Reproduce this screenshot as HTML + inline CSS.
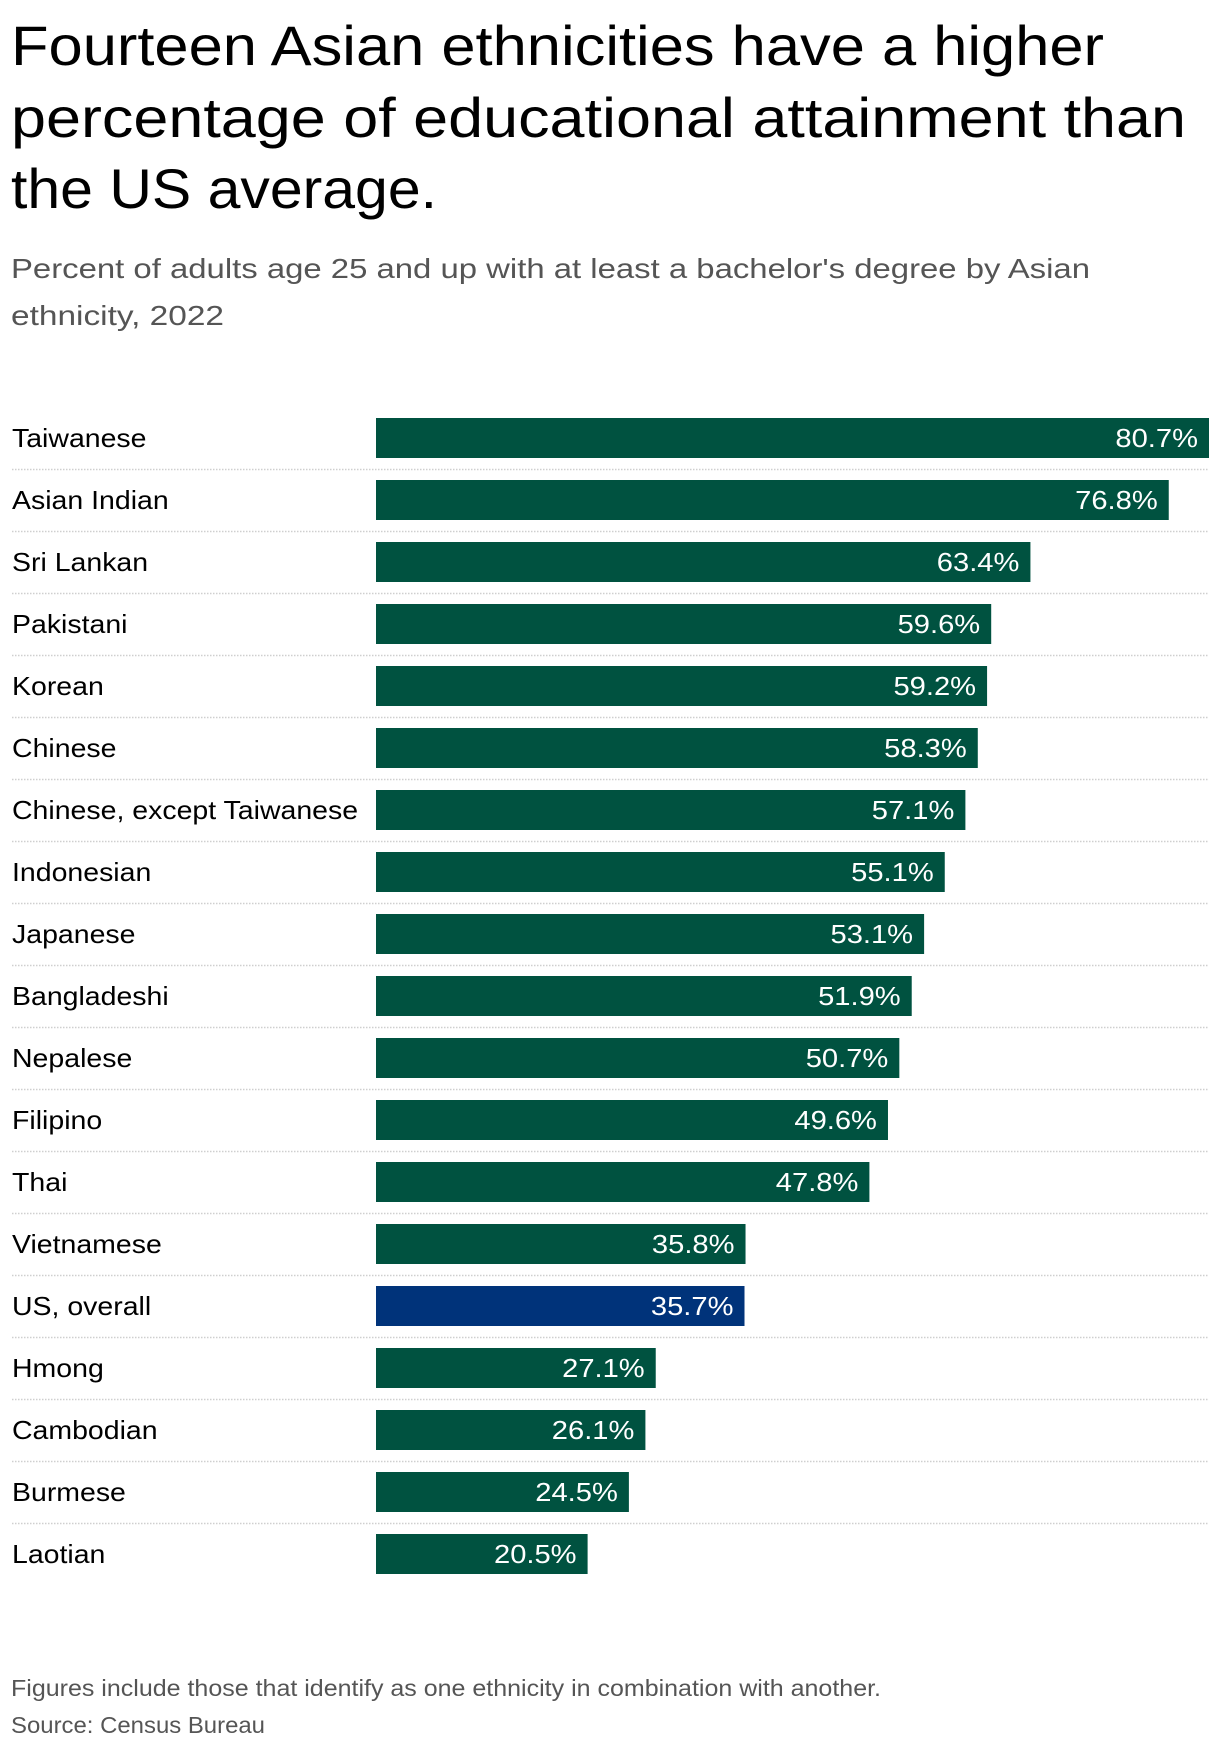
<!DOCTYPE html>
<html><head><meta charset="utf-8">
<style>
html,body{margin:0;padding:0;background:#fff;}
svg{display:block;font-family:"Liberation Sans",sans-serif;}
</style></head>
<body>
<svg id="chart" width="1220" height="1752" viewBox="0 0 1220 1752" xmlns="http://www.w3.org/2000/svg">
  <g font-size="56" fill="#000">
    <text x="11" y="65" textLength="1093" lengthAdjust="spacingAndGlyphs">Fourteen Asian ethnicities have a higher</text>
    <text x="11" y="137" textLength="1175" lengthAdjust="spacingAndGlyphs">percentage of educational attainment than</text>
    <text x="11" y="208" textLength="426" lengthAdjust="spacingAndGlyphs">the US average.</text>
  </g>
  <g font-size="28" fill="#555">
    <text x="11" y="278" textLength="1079" lengthAdjust="spacingAndGlyphs">Percent of adults age 25 and up with at least a bachelor's degree by Asian</text>
    <text x="11" y="325" textLength="213" lengthAdjust="spacingAndGlyphs">ethnicity, 2022</text>
  </g>
  <g id="rows"></g>
  <g font-size="23" fill="#555">
    <text x="11" y="1696" textLength="870" lengthAdjust="spacingAndGlyphs">Figures include those that identify as one ethnicity in combination with another.</text>
    <text x="11" y="1733" textLength="254" lengthAdjust="spacingAndGlyphs">Source: Census Bureau</text>
  </g>
</svg>
<script>
const categories = ["Taiwanese","Asian Indian","Sri Lankan","Pakistani","Korean","Chinese","Chinese, except Taiwanese","Indonesian","Japanese","Bangladeshi","Nepalese","Filipino","Thai","Vietnamese","US, overall","Hmong","Cambodian","Burmese","Laotian"];
const values = [80.7,76.8,63.4,59.6,59.2,58.3,57.1,55.1,53.1,51.9,50.7,49.6,47.8,35.8,35.7,27.1,26.1,24.5,20.5];
const highlight = ["US, overall"];

const NS = "http://www.w3.org/2000/svg";
const x0 = 376, pxPerUnit = (1209 - 376) / 80.7;
const top0 = 418, pitch = 62, barH = 40;
const xScale = v => x0 + v * pxPerUnit;
const yScale = i => top0 + i * pitch;
const g = document.getElementById("rows");
const widen = (t, f) => {
  const w = t.getComputedTextLength();
  t.setAttribute("textLength", (w * f).toFixed(1));
  t.setAttribute("lengthAdjust", "spacingAndGlyphs");
};

categories.forEach((c, i) => {
  const y = yScale(i);
  const lab = document.createElementNS(NS, "text");
  lab.setAttribute("x", 12);
  lab.setAttribute("y", y + 29);
  lab.setAttribute("font-size", "26");
  lab.setAttribute("fill", "#000");
  lab.textContent = c;
  
  
  g.appendChild(lab);
  widen(lab, 1.095);

  const r = document.createElementNS(NS, "rect");
  r.setAttribute("x", x0);
  r.setAttribute("y", y);
  r.setAttribute("width", xScale(values[i]) - x0);
  r.setAttribute("height", barH);
  r.setAttribute("fill", highlight.includes(c) ? "#00337a" : "#005240");
  
  
  g.appendChild(r);

  const v = document.createElementNS(NS, "text");
  v.setAttribute("x", xScale(values[i]) - 11);
  v.setAttribute("y", y + 29);
  v.setAttribute("font-size", "26");
  v.setAttribute("fill", "#fff");
  v.setAttribute("text-anchor", "end");
  v.textContent = values[i].toFixed(1) + "%";
  
  
  g.appendChild(v);
  widen(v, 1.12);

  if (i < categories.length - 1) {
    const l = document.createElementNS(NS, "line");
    l.setAttribute("x1", 12);
    l.setAttribute("x2", 1209);
    l.setAttribute("y1", y + barH + 11.5);
    l.setAttribute("y2", y + barH + 11.5);
    l.setAttribute("stroke", "#cfcfcf");
    l.setAttribute("stroke-width", "1.5");
    l.setAttribute("stroke-dasharray", "1.5 1.5");
    
    
    g.appendChild(l);
  }
});
</script>
</body></html>
